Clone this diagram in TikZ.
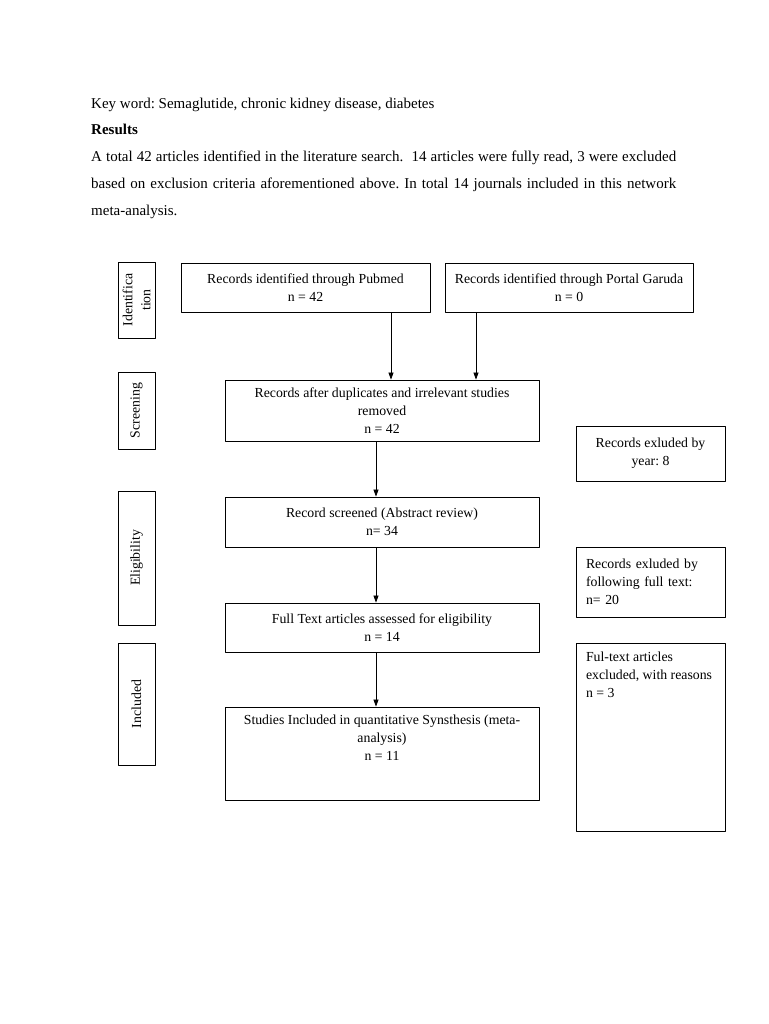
\documentclass[tikz,border=0pt]{standalone}
\usepackage{fontspec}
\setmainfont{Liberation Serif}
\frenchspacing
\usetikzlibrary{arrows.meta,positioning}
\tikzset{
  box/.style={draw,line width=0.8pt,align=center,inner sep=2pt,font=\fontsize{13.8}{18}\selectfont},
  stage/.style={box,rotate=90,minimum height=37pt},
  flow/.style={-{Triangle[length=7pt,width=5pt]},line width=0.7pt},
  bodytext/.style={anchor=base west,inner sep=0pt,font=\fontsize{15}{27}\selectfont}
}
\begin{document}
\begin{tikzpicture}[line cap=round,line join=round,x=1pt,y=-1pt]
	\useasboundingbox[fill=white] (0,0) rectangle (768,1024);
	% text above the chart
	\node[bodytext] (keyword) at (91,109) {Key word: Semaglutide, chronic kidney disease, diabetes};
	\node[bodytext,font=\fontsize{15}{27}\selectfont\bfseries] (results) at (91,135) {Results};
	\node[bodytext,anchor=north west,text width=585pt,align=justify] (summary) at (91,151)
		{A total 42 articles identified in the literature search.\ \ 14 articles were fully read, 3 were excluded\linebreak
		based on exclusion criteria aforementioned above. In total 14 journals included in this network\linebreak
		meta-analysis.};
	% stages
	\node[stage,minimum width=76pt] (ident) at (136.5,300) {Identifica\\tion};
	\node[stage,minimum width=77pt] (screen) at (136.5,410.5) {Screening};
	\node[stage,minimum width=134pt] (elig) at (136.5,558) {Eligibility};
	\node[stage,minimum width=122pt] (incl) at (136.5,704) {Included};
	% main boxes
	\node[box,minimum width=249pt,minimum height=49pt] (pubmed) at (305.5,287.5) {Records identified through Pubmed\\n = 42};
	\node[box,minimum width=248pt,minimum height=49pt] (garuda) at (569,287.5) {Records identified through Portal Garuda\\n = 0};
	\node[box,minimum width=314pt,minimum height=61pt] (dup) at (382,410.5) {Records after duplicates and irrelevant studies\\removed\\n = 42};
	\node[box,minimum width=314pt,minimum height=50pt] (screened) at (382,522) {Record screened (Abstract review)\\n= 34};
	\node[box,minimum width=314pt,minimum height=49pt] (fulltext) at (382,627.5) {Full Text articles assessed for eligibility\\n = 14};
	\node[box,minimum width=314pt,minimum height=93pt] (studies) at (382,753.5) {};
	\node[box,draw=none,below=6pt of studies.north] (studiestext) {Studies Included in quantitative Synsthesis (meta-\\analysis)\\n = 11};
	% excluded boxes
	\node[box,minimum width=149pt,minimum height=55pt] (byyear) at (650.5,453.5) {Records exluded by\\year: 8};
	\node[box,minimum width=149pt,minimum height=70pt,text width=129pt,inner xsep=10pt,align=left] (byfull) at (650.5,582) {Records exluded by\\following full text:\\n= 20};
	\node[box,minimum width=149pt,minimum height=188pt] (reasons) at (650.5,737) {};
	\node[box,draw=none,align=left,below right=7pt and 8pt of reasons.north west] (reasonstext) {Ful-text articles\\excluded, with reasons\\n = 3};
	% arrows
	\draw[flow] ([xshift=85.5pt]pubmed.south) -- ([xshift=9pt]dup.north);
	\draw[flow] ([xshift=-93pt]garuda.south) -- ([xshift=94pt]dup.north);
	\draw[flow] ([xshift=-6pt]dup.south) -- ([xshift=-6pt]screened.north);
	\draw[flow] ([xshift=-6pt]screened.south) -- ([xshift=-6pt]fulltext.north);
	\draw[flow] ([xshift=-6pt]fulltext.south) -- ([xshift=-6pt]studies.north);
\end{tikzpicture}
\end{document}
